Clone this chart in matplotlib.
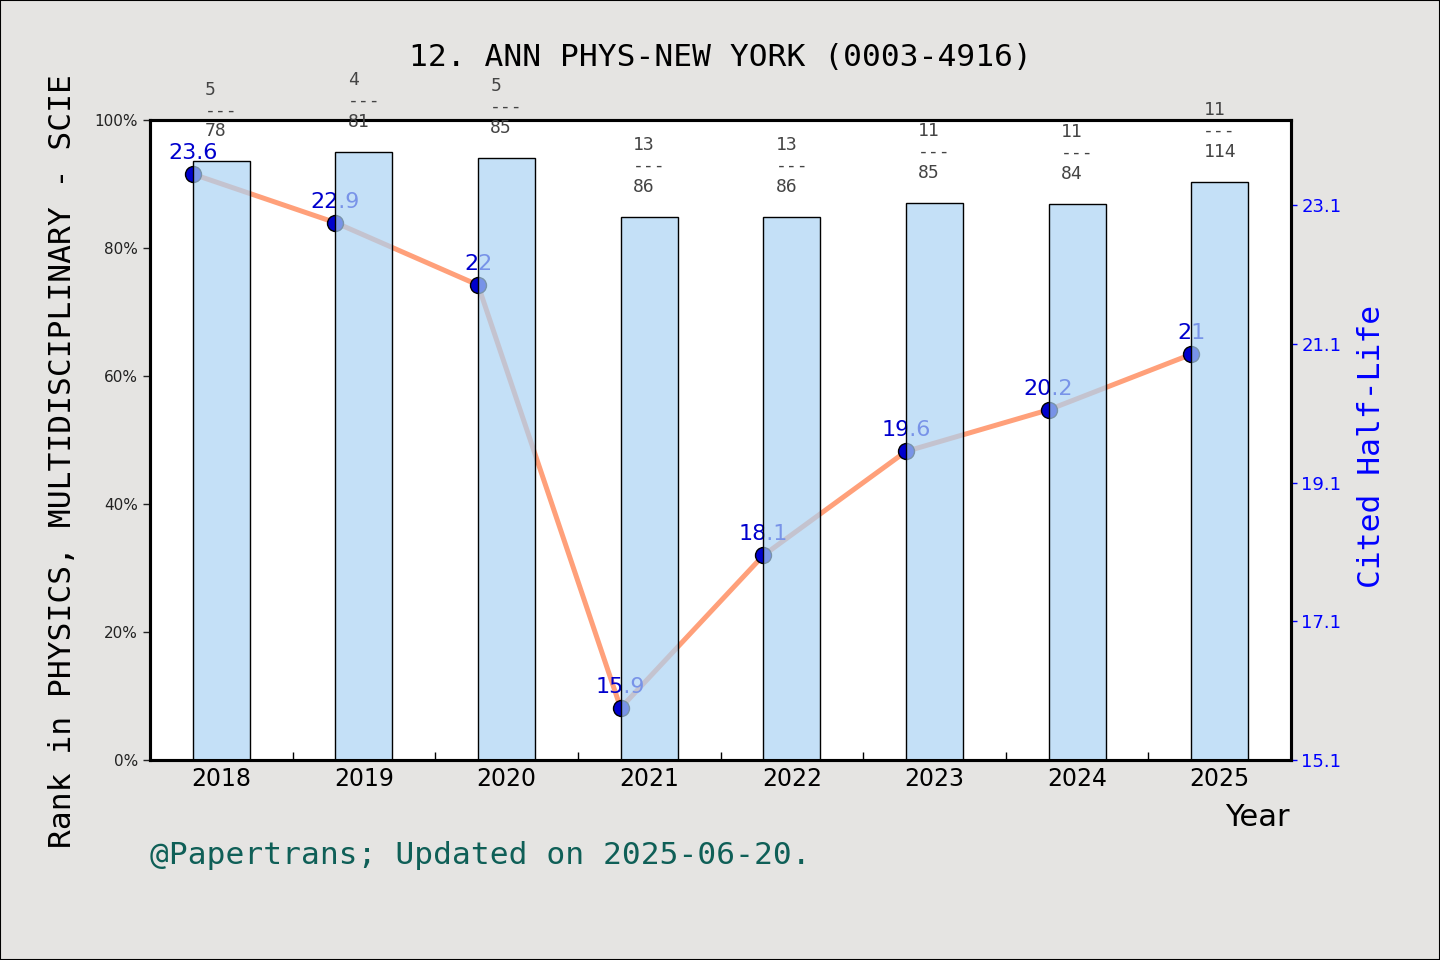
import matplotlib
matplotlib.use('Agg')
import matplotlib.pyplot as plt
from matplotlib.patches import Rectangle
import numpy as np

# ---- data ----
years = ['2018', '2019', '2020', '2021', '2022', '2023', '2024', '2025']
rank = [5, 4, 5, 13, 13, 11, 11, 11]
total = [78, 81, 85, 86, 86, 85, 84, 114]
half_life = [23.6, 22.9, 22.0, 15.9, 18.1, 19.6, 20.2, 21.0]
half_life_labels = ['23.6', '22.9', '22', '15.9', '18.1', '19.6', '20.2', '21']
right_tick_values = [15.15, 17.15, 19.15, 21.15, 23.15]
right_tick_labels = ['15.1', '17.1', '19.1', '21.1', '23.1']
left_ticks = [0, 0.2, 0.4, 0.6, 0.8, 1.0]
left_tick_labels = ['0%', '20%', '40%', '60%', '80%', '100%']

title = '12. ANN PHYS-NEW YORK (0003-4916)'
left_label = 'Rank in PHYSICS, MULTIDISCIPLINARY - SCIE'
right_label = 'Cited Half-Life'
footer = '@Papertrans; Updated on 2025-06-20.'

pct = [1 - r / t for r, t in zip(rank, total)]
x = np.arange(len(years))

MONO = 'DejaVu Sans Mono'

fig = plt.figure(figsize=(14.4, 9.6), dpi=100, facecolor='#E5E4E2')
ax_line = fig.add_axes([150 / 1440, 200 / 960, 1141 / 1440, 640 / 960])
ax_line.set_facecolor('white')
ax_bar = ax_line.twinx()

# line (beneath bars)
ax_line.plot(x, half_life, color='#FFA07A', lw=3.6, zorder=2, solid_capstyle='round')
ax_line.plot(x, half_life, 'o', ms=11.5, mfc='#0000CD', mec='black', mew=1, zorder=3)
for xi, v, lab in zip(x, half_life, half_life_labels):
    ax_line.annotate(lab, (xi, v), xytext=(0, 8), textcoords='offset points',
                     ha='center', va='bottom', fontsize=16, color='#0000CD', zorder=4)
ax_line.set_ylim(15.15, 24.38)
ax_line.set_xlim(-0.3, 7.7)
ax_line.yaxis.tick_right()
ax_line.yaxis.set_label_position('right')
ax_line.set_yticks(right_tick_values, right_tick_labels)
ax_line.tick_params(axis='y', colors='#0000FF', labelsize=13, length=4, width=1,
                    direction='out', left=False, right=True, labelleft=False, labelright=True)
ax_line.set_xticks(x + 0.2, years)
ax_line.set_xticks(x[:-1] + 0.7, minor=True)
ax_line.tick_params(axis='x', which='major', length=0, labelsize=17, pad=5)
ax_line.tick_params(axis='x', which='minor', direction='in', length=6, width=1)

# bars (on top, semi transparent)
ax_bar.bar(x, pct, width=0.4, align='edge', color=(172 / 255, 211 / 255, 244 / 255, 0.7),
           edgecolor='black', linewidth=1, zorder=2)
for xi, p, r, t in zip(x, pct, rank, total):
    ax_bar.annotate(f'{r}\n---\n{t}', (xi + 0.2, p), xytext=(0, 15), textcoords='offset points',
                    ha='center', va='bottom', multialignment='left', family=MONO,
                    fontsize=13, color='#444444', annotation_clip=False)
ax_bar.set_ylim(0, 1)
ax_bar.yaxis.tick_left()
ax_bar.yaxis.set_label_position('left')
ax_bar.set_yticks(left_ticks, left_tick_labels)
ax_bar.tick_params(axis='y', labelsize=11, length=5, width=1, direction='out',
                   left=True, right=False, labelleft=True, labelright=False, colors='#222222')

for a in (ax_line, ax_bar):
    for s in a.spines.values():
        s.set_linewidth(2.2)
        s.set_color('black')

# texts
fig.text(0.5, 1 - 57 / 960, title, ha='center', va='center', family=MONO, fontsize=22.5, color='black')
fig.text(63 / 1440, 1 - 461 / 960, left_label, ha='center', va='center', rotation=90,
         family=MONO, fontsize=22.5, color='black')
fig.text(1372 / 1440, 1 - 446 / 960, right_label, ha='center', va='center', rotation=90,
         family=MONO, fontsize=22.5, color='#0000FF')
fig.text(1290 / 1440, 1 - 817 / 960, 'Year', ha='right', va='center', fontsize=22, color='black')
fig.text(150 / 1440, 1 - 855 / 960, footer, ha='left', va='center', family=MONO,
         fontsize=22.5, color='#0F5F57')

fig.patches.append(Rectangle((0, 0), 1, 1, transform=fig.transFigure, fill=False,
                             edgecolor='black', linewidth=1.5))

fig.savefig('out.png', dpi=100, facecolor=fig.get_facecolor())
